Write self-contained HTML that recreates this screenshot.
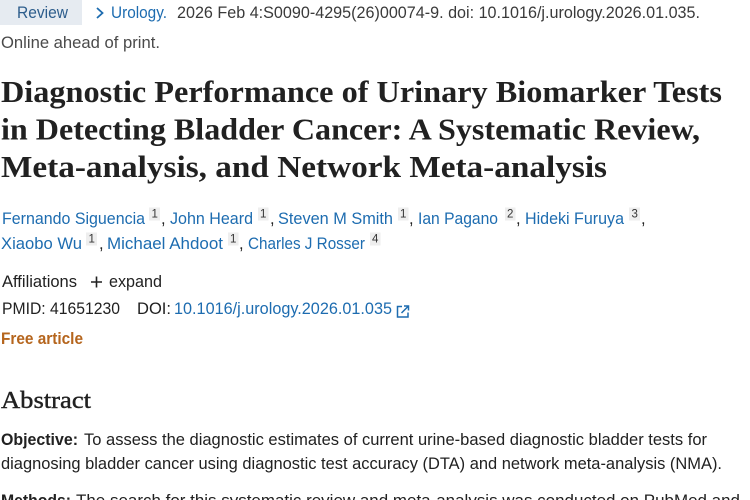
<!DOCTYPE html>
<html>
<head>
<meta charset="utf-8">
<style>
  html,body{margin:0;padding:0;background:#fff;}
  body{width:750px;height:500px;overflow:hidden;}
  svg{display:block;}
  .s{font-family:"Liberation Sans",sans-serif;font-size:16.5px;}
  .t{font-family:"Liberation Serif",serif;font-size:31px;font-weight:bold;fill:#212121;}
  .blue{fill:#1d6cb0;}
  .dk{fill:#212121;}
  .sup{font-family:"Liberation Sans",sans-serif;font-size:11.5px;fill:#333;}
</style>
</head>
<body>
<svg width="750" height="500" viewBox="0 0 750 500" xmlns="http://www.w3.org/2000/svg">
  <rect x="0" y="0" width="750" height="500" fill="#fff"/>

  <!-- Row 1 -->
  <rect x="0" y="0" width="82" height="25" fill="#e6ebf1"/>
  <text class="s" x="17" y="18" textLength="51" lengthAdjust="spacingAndGlyphs" fill="#2d5d8c">Review</text>
  <polyline points="97,8 102.5,13 97,18" fill="none" stroke="#1d6cb0" stroke-width="1.8"/>
  <text class="s blue" x="111" y="18" textLength="56" lengthAdjust="spacingAndGlyphs">Urology.</text>
  <text class="s" x="177" y="18" textLength="523" lengthAdjust="spacingAndGlyphs" fill="#3a3a3a">2026 Feb 4:S0090-4295(26)00074-9. doi: 10.1016/j.urology.2026.01.035.</text>

  <!-- Row 2 -->
  <text class="s" x="1" y="48" textLength="159" lengthAdjust="spacingAndGlyphs" fill="#4a4a4a">Online ahead of print.</text>

  <!-- Title -->
  <text class="t" x="1" y="102" textLength="721" lengthAdjust="spacingAndGlyphs">Diagnostic Performance of Urinary Biomarker Tests</text>
  <text class="t" x="1" y="139.5" textLength="699" lengthAdjust="spacingAndGlyphs">in Detecting Bladder Cancer: A Systematic Review,</text>
  <text class="t" x="1" y="177" textLength="606" lengthAdjust="spacingAndGlyphs">Meta-analysis, and Network Meta-analysis</text>

  <!-- Authors row 1 -->
  <text class="s blue" x="2" y="224" textLength="143" lengthAdjust="spacingAndGlyphs">Fernando Siguencia</text>
  <rect x="149" y="207.5" width="11" height="13" fill="#eeeeee"/>
  <text class="sup" x="151.5" y="217.5">1</text>
  <text class="s dk" x="161" y="224">,</text>
  <text class="s blue" x="170" y="224" textLength="83" lengthAdjust="spacingAndGlyphs">John Heard</text>
  <rect x="258" y="207.5" width="10.5" height="13" fill="#eeeeee"/>
  <text class="sup" x="260" y="217.5">1</text>
  <text class="s dk" x="270" y="224">,</text>
  <text class="s blue" x="278" y="224" textLength="115" lengthAdjust="spacingAndGlyphs">Steven M Smith</text>
  <rect x="398" y="207.5" width="10.5" height="13" fill="#eeeeee"/>
  <text class="sup" x="400" y="217.5">1</text>
  <text class="s dk" x="409" y="224">,</text>
  <text class="s blue" x="418" y="224" textLength="80" lengthAdjust="spacingAndGlyphs">Ian Pagano</text>
  <rect x="505" y="207.5" width="10.5" height="13" fill="#eeeeee"/>
  <text class="sup" x="507" y="217.5">2</text>
  <text class="s dk" x="516" y="224">,</text>
  <text class="s blue" x="525" y="224" textLength="99" lengthAdjust="spacingAndGlyphs">Hideki Furuya</text>
  <rect x="629" y="207.5" width="11" height="13" fill="#eeeeee"/>
  <text class="sup" x="631.5" y="217.5">3</text>
  <text class="s dk" x="641" y="224">,</text>

  <!-- Authors row 2 -->
  <text class="s blue" x="1" y="249" textLength="81" lengthAdjust="spacingAndGlyphs">Xiaobo Wu</text>
  <rect x="86" y="232.5" width="11" height="13" fill="#eeeeee"/>
  <text class="sup" x="88.5" y="242.5">1</text>
  <text class="s dk" x="99" y="249">,</text>
  <text class="s blue" x="107" y="249" textLength="116" lengthAdjust="spacingAndGlyphs">Michael Ahdoot</text>
  <rect x="228" y="232.5" width="10.5" height="13" fill="#eeeeee"/>
  <text class="sup" x="230" y="242.5">1</text>
  <text class="s dk" x="239" y="249">,</text>
  <text class="s blue" x="248" y="249" textLength="117" lengthAdjust="spacingAndGlyphs">Charles J Rosser</text>
  <rect x="370" y="232.5" width="10.5" height="13" fill="#eeeeee"/>
  <text class="sup" x="372" y="242.5">4</text>

  <!-- Affiliations -->
  <text class="s dk" x="2" y="287" textLength="75" lengthAdjust="spacingAndGlyphs">Affiliations</text>
  <path d="M91,282 H102 M96.5,276.5 V287.5" stroke="#212121" stroke-width="1.6"/>
  <text class="s dk" x="109" y="287" textLength="53" lengthAdjust="spacingAndGlyphs">expand</text>

  <!-- PMID / DOI -->
  <text class="s dk" x="2" y="314" textLength="118" lengthAdjust="spacingAndGlyphs">PMID: 41651230</text>
  <text class="s dk" x="137" y="314" textLength="34" lengthAdjust="spacingAndGlyphs">DOI:</text>
  <text class="s blue" x="174" y="314" textLength="218" lengthAdjust="spacingAndGlyphs">10.1016/j.urology.2026.01.035</text>
  <g fill="none" stroke="#1d6cb0" stroke-width="1.5">
    <path d="M402,306.5 H397.5 V317 H408 V312.5"/>
    <path d="M401.5,313 L408.5,306 M404,306 H408.5 V310.5"/>
  </g>

  <!-- Free article -->
  <text class="s" x="1" y="344" font-weight="bold" textLength="82" lengthAdjust="spacingAndGlyphs" fill="#b5651d">Free article</text>

  <!-- Abstract -->
  <text x="1" y="408" font-family="'Liberation Serif',serif" font-size="24" fill="#212121" stroke="#212121" stroke-width="0.4" textLength="90" lengthAdjust="spacingAndGlyphs">Abstract</text>

  <text class="s dk" x="1" y="445" font-weight="bold" textLength="77" lengthAdjust="spacingAndGlyphs">Objective:</text>
  <text class="s dk" x="84" y="445" textLength="623" lengthAdjust="spacingAndGlyphs">To assess the diagnostic estimates of current urine-based diagnostic bladder tests for</text>
  <text class="s dk" x="1" y="469" textLength="721" lengthAdjust="spacingAndGlyphs">diagnosing bladder cancer using diagnostic test accuracy (DTA) and network meta-analysis (NMA).</text>

  <text class="s dk" x="1" y="506" font-weight="bold" textLength="70" lengthAdjust="spacingAndGlyphs">Methods:</text>
  <text class="s dk" x="76" y="506" textLength="664" lengthAdjust="spacingAndGlyphs">The search for this systematic review and meta-analysis was conducted on PubMed and</text>
</svg>
</body>
</html>
